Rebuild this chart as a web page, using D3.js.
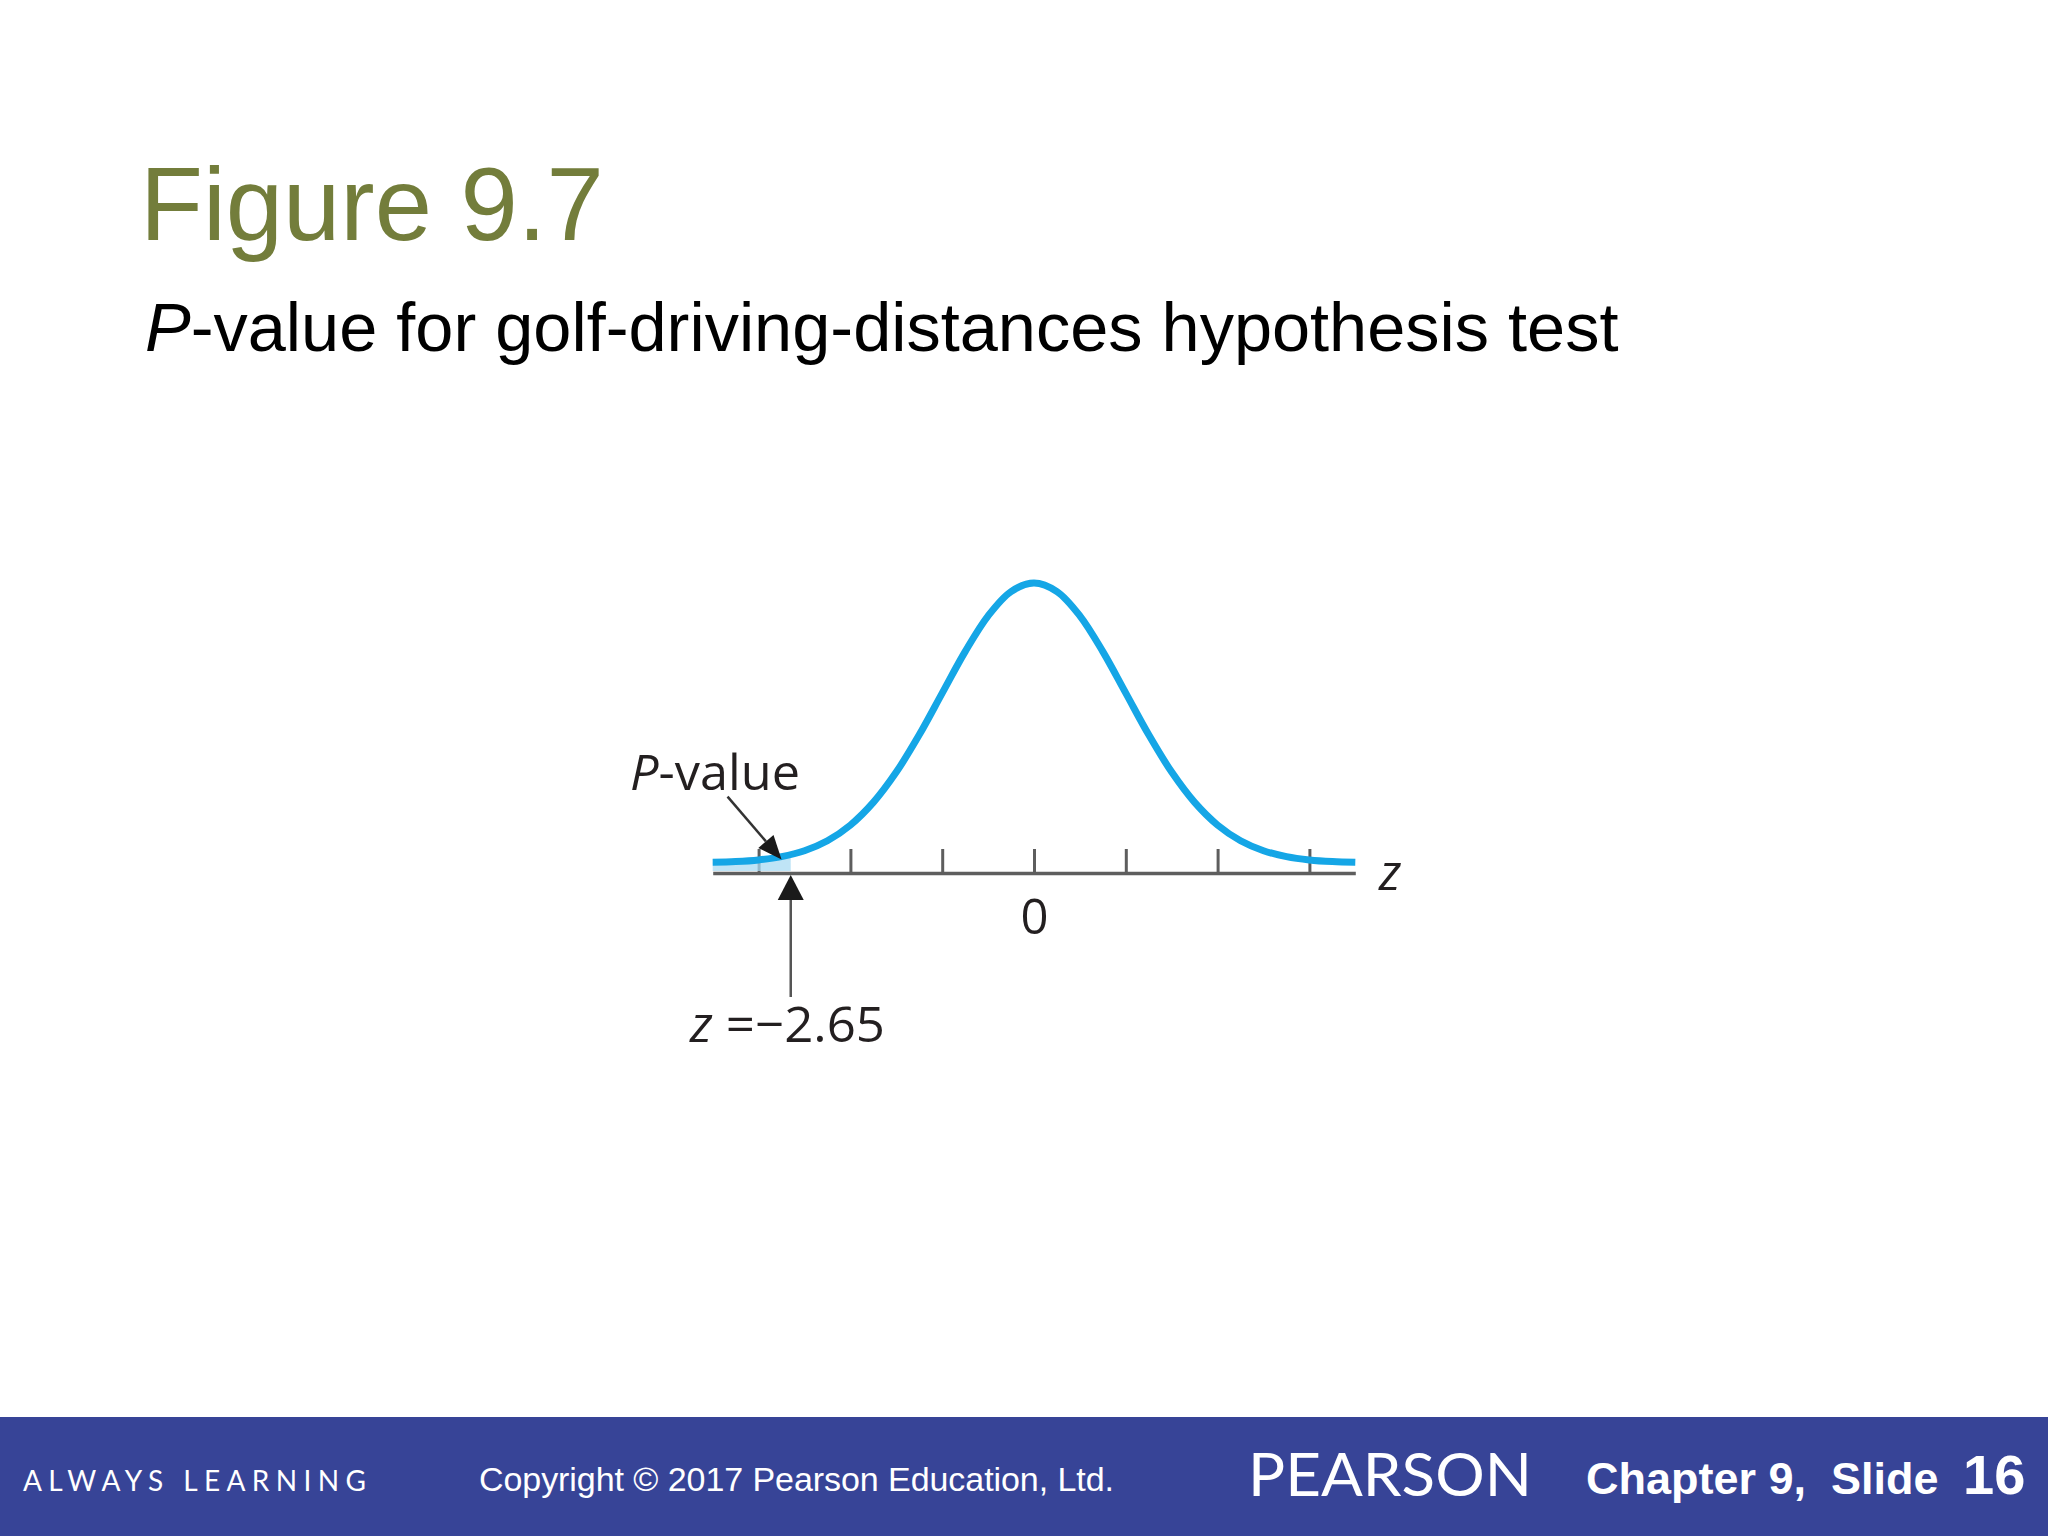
<!DOCTYPE html>
<html>
<head>
<meta charset="utf-8">
<title>Figure 9.7</title>
<script src="https://d3js.org/d3.v7.min.js"></script>
<style>
  body { margin: 0; background: #fff; }
  svg { display: block; }
  .axis path, .axis line { stroke: #5e5e5e; }
</style>
</head>
<body>
<div id="slide"></div>
<script>
  // standard normal curve
  var curveZ = [-3.5, -3.25, -3, -2.75, -2.5, -2.25, -2, -1.75, -1.5, -1.25, -1, -0.75, -0.5, -0.25,
                0, 0.25, 0.5, 0.75, 1, 1.25, 1.5, 1.75, 2, 2.25, 2.5, 2.75, 3, 3.25, 3.5];
  var curveDensity = [0.0009, 0.0020, 0.0044, 0.0091, 0.0175, 0.0317, 0.0540, 0.0863, 0.1295, 0.1826,
                      0.2420, 0.3011, 0.3521, 0.3867, 0.3989, 0.3867, 0.3521, 0.3011, 0.2420, 0.1826,
                      0.1295, 0.0863, 0.0540, 0.0317, 0.0175, 0.0091, 0.0044, 0.0020, 0.0009];

  // shaded P-value tail, left of the test statistic
  var tailZ = [-3.5, -3.25, -3, -2.75, -2.65];
  var tailDensity = [0.0009, 0.0020, 0.0044, 0.0091, 0.0119];

  var zTicks = [-3, -2, -1, 0, 1, 2, 3];
  var tickLabels = ["", "", "", "0", "", "", ""];
  var zStat = -2.65;

  var W = 2048, H = 1536;
  var svg = d3.select("#slide").append("svg")
      .attr("width", W)
      .attr("height", H);

  svg.append("rect").attr("width", W).attr("height", H).attr("fill", "#ffffff");

  // title block
  svg.append("text")
      .attr("x", 140).attr("y", 240)
      .attr("font-family", "'Liberation Sans', Arial, sans-serif")
      .attr("font-size", 103)
      .attr("fill", "#737d3b")
      .text("Figure 9.7");

  var sub = svg.append("text")
      .attr("x", 145).attr("y", 351)
      .attr("font-family", "'Liberation Sans', Arial, sans-serif")
      .attr("font-size", 68.5)
      .attr("fill", "#000");
  sub.append("tspan").attr("font-style", "italic").text("P");
  sub.append("tspan").text("-value for golf-driving-distances hypothesis test");

  // scales
  var axisY = 873;
  var x = d3.scaleLinear().domain([-3.5, 3.5]).range([712.7, 1355.3]);
  var y = d3.scaleLinear().domain([0, 0.3989]).range([863, 583]);

  var chart = svg.append("g");

  // z axis, ticks pointing up
  var axis = d3.axisBottom(x)
      .tickValues(zTicks)
      .tickSize(-24)
      .tickSizeOuter(0)
      .tickPadding(26)
      .tickFormat(function(d, i) { return tickLabels[i]; });

  var gAxis = chart.append("g")
      .attr("class", "axis")
      .attr("transform", "translate(0," + axisY + ")")
      .call(axis);
  gAxis.select(".domain").attr("stroke-width", 3.5);
  gAxis.selectAll(".tick line").attr("stroke-width", 3).attr("stroke", "#3c3c3c");
  gAxis.selectAll(".tick text")
      .attr("font-family", "'Open Sans', sans-serif")
      .attr("font-size", 49)
      .attr("fill", "#231f20");

  // shaded tail
  var tail = tailZ.map(function(z, i) { return {z: z, d: tailDensity[i]}; });
  chart.append("path")
      .datum(tail)
      .attr("fill", "#a9dbf3")
      .attr("fill-opacity", 0.75)
      .attr("d", d3.area()
          .x(function(p) { return x(p.z); })
          .y0(axisY - 2)
          .y1(function(p) { return y(p.d); }));

  // normal curve
  var pts = curveZ.map(function(z, i) { return {z: z, d: curveDensity[i]}; });
  chart.append("path")
      .datum(pts)
      .attr("fill", "none")
      .attr("stroke", "#15a6e6")
      .attr("stroke-width", 7)
      .attr("d", d3.line()
          .curve(d3.curveCatmullRom.alpha(0.5))
          .x(function(p) { return x(p.z); })
          .y(function(p) { return y(p.d); }));

  // arrow from the P-value label into the tail
  var tipX = x(-2.75), tipY = y(0.0091) + 3;
  var fromX = tipX - 54, fromY = tipY - 63;
  var ang = Math.atan2(tipY - fromY, tipX - fromX);
  var hl = 24, hw = 10;
  var bx = tipX - hl * Math.cos(ang), by = tipY - hl * Math.sin(ang);
  chart.append("line")
      .attr("x1", fromX).attr("y1", fromY)
      .attr("x2", bx).attr("y2", by)
      .attr("stroke", "#333").attr("stroke-width", 2.5);
  chart.append("path")
      .attr("fill", "#1a1a1a")
      .attr("d", "M" + tipX + "," + tipY +
                 "L" + (bx + hw * Math.sin(ang)) + "," + (by - hw * Math.cos(ang)) +
                 "L" + (bx - hw * Math.sin(ang)) + "," + (by + hw * Math.cos(ang)) + "Z");

  // arrow up to the test statistic
  var sx = x(zStat);
  chart.append("line")
      .attr("x1", sx).attr("y1", 898)
      .attr("x2", sx).attr("y2", 997)
      .attr("stroke", "#555").attr("stroke-width", 2.5);
  chart.append("path")
      .attr("fill", "#1a1a1a")
      .attr("d", "M" + sx + "," + (axisY + 2) + "L" + (sx - 13) + ",900L" + (sx + 13) + ",900Z");

  // labels
  var labFont = "'Open Sans', sans-serif";
  var pl = chart.append("text")
      .attr("x", 630).attr("y", 790)
      .attr("font-family", labFont).attr("font-size", 49)
      .attr("fill", "#231f20")
      .attr("textLength", 170).attr("lengthAdjust", "spacingAndGlyphs");
  pl.append("tspan").attr("font-style", "italic").text("P");
  pl.append("tspan").text("-value");

  var zl = chart.append("text")
      .attr("x", 690).attr("y", 1042)
      .attr("font-family", labFont).attr("font-size", 50)
      .attr("fill", "#231f20")
      .attr("textLength", 195).attr("lengthAdjust", "spacingAndGlyphs");
  zl.append("tspan").attr("font-style", "italic").text("z");
  zl.append("tspan").text(" =\u22122.65");

  chart.append("text")
      .attr("x", 1379).attr("y", 890)
      .attr("font-family", labFont).attr("font-size", 50)
      .attr("font-style", "italic")
      .attr("fill", "#231f20")
      .text("z");

  // footer band
  var foot = svg.append("g");
  foot.append("rect")
      .attr("x", 0).attr("y", 1417)
      .attr("width", W).attr("height", H - 1417)
      .attr("fill", "#374497");

  foot.append("text")
      .attr("x", 23).attr("y", 1491)
      .attr("font-family", "Lato, sans-serif").attr("font-size", 28)
      .attr("fill", "#fff")
      .attr("textLength", 343).attr("lengthAdjust", "spacing")
      .text("ALWAYS LEARNING");

  foot.append("text")
      .attr("x", 479).attr("y", 1491)
      .attr("font-family", "'Liberation Sans', Arial, sans-serif").attr("font-size", 34)
      .attr("fill", "#fff")
      .attr("textLength", 635)
      .text("Copyright \u00a9 2017 Pearson Education, Ltd.");

  foot.append("text")
      .attr("x", 1248).attr("y", 1496)
      .attr("font-family", "Lato, sans-serif").attr("font-size", 60)
      .attr("fill", "#fff")
      .attr("textLength", 284).attr("lengthAdjust", "spacingAndGlyphs")
      .text("PEARSON");

  foot.append("text")
      .attr("x", 1586).attr("y", 1494)
      .attr("font-family", "'Liberation Sans', Arial, sans-serif").attr("font-size", 45)
      .attr("font-weight", "bold")
      .attr("fill", "#fff")
      .attr("xml:space", "preserve")
      .style("white-space", "pre")
      .text("Chapter 9,  Slide");

  foot.append("text")
      .attr("x", 1963).attr("y", 1494)
      .attr("font-family", "'Liberation Sans', Arial, sans-serif").attr("font-size", 56)
      .attr("font-weight", "bold")
      .attr("fill", "#fff")
      .text("16");
</script>
</body>
</html>
